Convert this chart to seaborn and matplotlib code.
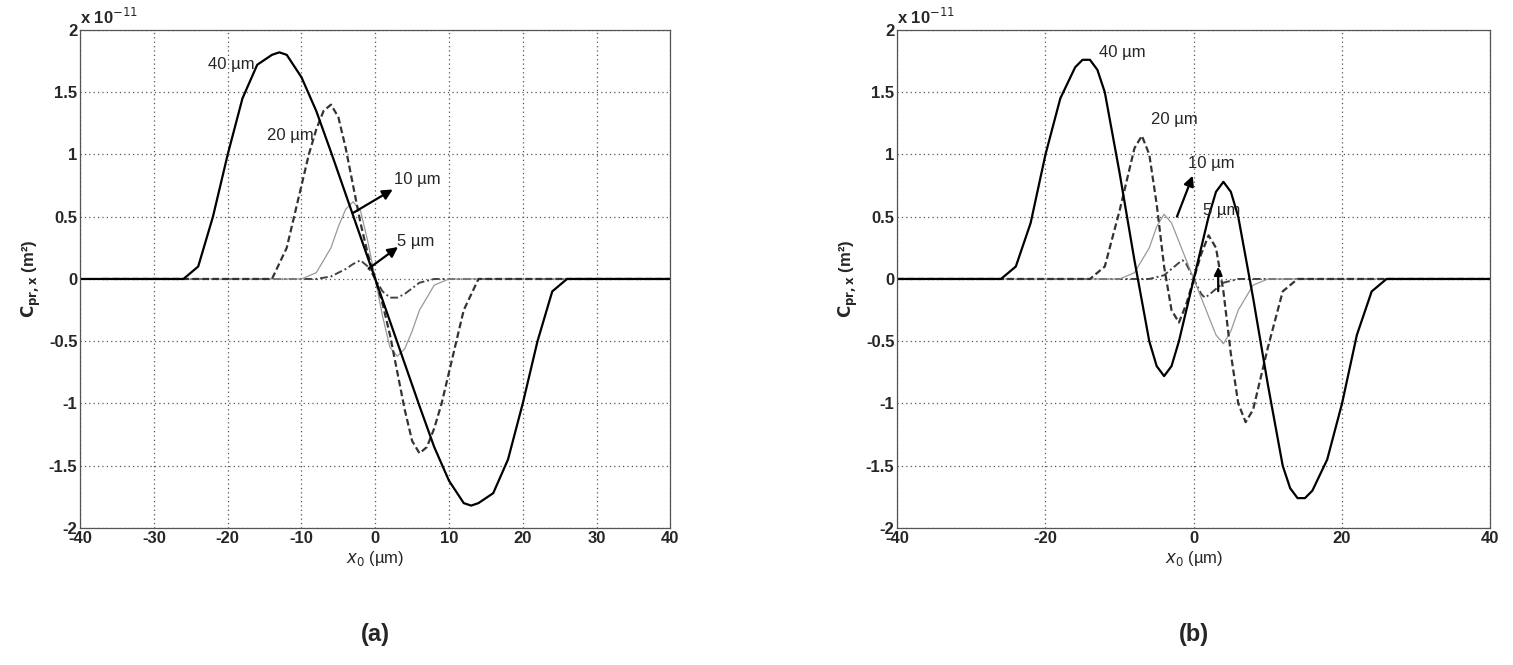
import numpy as np
import pandas as pd
import matplotlib
matplotlib.use("Agg")
import matplotlib.pyplot as plt
import seaborn as sns

# Werte in Einheiten von 1e-11 m^2
# (a)
xa_40 = [-40, -26, -24, -22, -20, -18, -16, -14, -13, -12, -10, -8, -6, -4, -2, 0,
         2, 4, 6, 8, 10, 12, 13, 14, 16, 18, 20, 22, 24, 26, 40]
ya_40 = [0, 0, 0.1, 0.5, 1.0, 1.45, 1.72, 1.8, 1.82, 1.8, 1.62, 1.35, 1.02, 0.68, 0.34, 0,
         -0.34, -0.68, -1.02, -1.35, -1.62, -1.8, -1.82, -1.8, -1.72, -1.45, -1.0, -0.5, -0.1, 0, 0]
xa_20 = [-37, -14, -12, -11, -10, -9, -8, -7, -6, -5, -4, -3, -2, -1, 0,
         1, 2, 3, 4, 5, 6, 7, 8, 9, 10, 11, 12, 14, 40]
ya_20 = [0, 0, 0.25, 0.5, 0.75, 1.0, 1.2, 1.35, 1.4, 1.3, 1.05, 0.75, 0.45, 0.2, 0,
         -0.2, -0.45, -0.75, -1.05, -1.3, -1.4, -1.35, -1.2, -1.0, -0.75, -0.5, -0.25, 0, 0]
xa_10 = [-37, -10, -8, -6, -5, -4, -3, -2, -1, 0, 1, 2, 3, 4, 5, 6, 8, 10, 40]
ya_10 = [0, 0, 0.05, 0.25, 0.42, 0.56, 0.62, 0.55, 0.3, 0,
         -0.3, -0.55, -0.62, -0.56, -0.42, -0.25, -0.05, 0, 0]
xa_5 = [-37, -8, -6, -4, -3, -2, -1, 0, 1, 2, 3, 4, 6, 8, 40]
ya_5 = [0, 0, 0.02, 0.08, 0.12, 0.15, 0.1, 0, -0.1, -0.15, -0.15, -0.12, -0.03, 0, 0]

# (b)
xb_40 = [-40, -26, -24, -22, -20, -18, -16, -15, -14, -13, -12, -10, -8, -6, -5, -4, -3, -2, 0,
         2, 3, 4, 5, 6, 8, 10, 12, 13, 14, 15, 16, 18, 20, 22, 24, 26, 40]
yb_40 = [0, 0, 0.1, 0.45, 1.0, 1.45, 1.7, 1.76, 1.76, 1.68, 1.5, 0.85, 0.15, -0.5, -0.7, -0.78, -0.7, -0.5, 0,
         0.5, 0.7, 0.78, 0.7, 0.5, -0.15, -0.85, -1.5, -1.68, -1.76, -1.76, -1.7, -1.45, -1.0, -0.45, -0.1, 0, 0]
xb_20 = [-40, -14, -12, -10, -8, -7, -6, -5, -4, -3, -2, -1, 0,
         1, 2, 3, 4, 5, 6, 7, 8, 10, 12, 14, 40]
yb_20 = [0, 0, 0.1, 0.55, 1.05, 1.15, 1.0, 0.6, 0.1, -0.25, -0.35, -0.2, 0,
         0.2, 0.35, 0.25, -0.1, -0.6, -1.0, -1.15, -1.05, -0.55, -0.1, 0, 0]
xb_10 = [-40, -10, -8, -6, -5, -4, -3, -2, -1, 0, 1, 2, 3, 4, 5, 6, 8, 10, 40]
yb_10 = [0, 0, 0.05, 0.25, 0.42, 0.52, 0.45, 0.3, 0.15, 0,
         -0.15, -0.3, -0.45, -0.52, -0.42, -0.25, -0.05, 0, 0]
xb_5 = [-40, -6, -4, -3, -2, -1.5, -1, 0, 1, 1.5, 2, 3, 4, 6, 40]
yb_5 = [0, 0, 0.03, 0.08, 0.13, 0.15, 0.12, 0, -0.12, -0.15, -0.13, -0.08, -0.03, 0, 0]

styles = {"40": dict(color="black", lw=1.6, ls="-"),
          "20": dict(color="#333333", lw=1.6, ls=(0, (3, 1.5))),
          "10": dict(color="#999999", lw=0.9, ls="-"),
          "5": dict(color="#444444", lw=1.4, ls=(0, (4, 1.5, 1, 1.5)))}

sns.set_style("white")
plt.rcParams["font.family"] = ["Liberation Sans", "DejaVu Sans"]

fig = plt.figure(figsize=(15.13, 6.65), dpi=100)
ax_a = fig.add_axes([0.053, 0.206, 0.390, 0.749])
ax_b = fig.add_axes([0.593, 0.206, 0.392, 0.749])

curves_a = {"40": (xa_40, ya_40), "20": (xa_20, ya_20), "10": (xa_10, ya_10), "5": (xa_5, ya_5)}
curves_b = {"40": (xb_40, yb_40), "20": (xb_20, yb_20), "10": (xb_10, yb_10), "5": (xb_5, yb_5)}

for ax, curves, xt, lab in [(ax_a, curves_a, list(range(-40, 41, 10)), "(a)"),
                            (ax_b, curves_b, list(range(-40, 41, 20)), "(b)")]:
    for k in ["5", "10", "20", "40"]:
        x, y = curves[k]
        df = pd.DataFrame({"x": x, "y": y})
        s = styles[k]
        sns.lineplot(data=df, x="x", y="y", ax=ax, color=s["color"], lw=s["lw"],
                     linestyle=s["ls"], sort=False, estimator=None)
    ax.set_xlim(-40, 40)
    ax.set_ylim(-2, 2)
    ax.set_xticks(xt)
    ax.set_xticklabels([str(v) for v in xt])
    ax.set_yticks(np.arange(-2, 2.01, 0.5))
    ax.set_yticklabels(["-2", "-1.5", "-1", "-0.5", "0", "0.5", "1", "1.5", "2"])
    ax.grid(True, color="#555555", ls=(0, (1, 2.5)), lw=0.9)
    ax.tick_params(direction="in", length=4, labelsize=12, pad=2)
    for lbl in ax.get_xticklabels() + ax.get_yticklabels():
        lbl.set_fontweight("bold")
    for sp in ax.spines.values():
        sp.set_color("#555555")
        sp.set_linewidth(0.9)
    ax.set_xlabel(r"$\mathbf{\it{x}_0}$ (µm)", fontsize=12, labelpad=2)
    ax.set_ylabel(r"$\mathbf{C_{pr,x}}$ (m²)", fontsize=12, fontweight="bold", labelpad=4)
    ax.text(0.0, 1.005, "x 10$^{-11}$", transform=ax.transAxes, fontsize=12,
            fontweight="bold", va="bottom", ha="left")
    ax.text(0.5, -0.19, lab, transform=ax.transAxes, fontsize=17,
            fontweight="bold", ha="center", va="top")

# Beschriftungen (a)
ax_a.text(-19.5, 1.72, "40 µm", fontsize=12, ha="center", va="center")
ax_a.text(-11.5, 1.15, "20 µm", fontsize=12, ha="center", va="center")
ax_a.text(2.5, 0.8, "10 µm", fontsize=12, ha="left", va="center")
ax_a.annotate("", xy=(2.7, 0.73), xytext=(-3.3, 0.52),
              arrowprops=dict(arrowstyle="-|>", color="black", lw=1.6, mutation_scale=15))
ax_a.text(3.0, 0.3, "5 µm", fontsize=12, ha="left", va="center")
ax_a.annotate("", xy=(3.4, 0.27), xytext=(-1.2, 0.07),
              arrowprops=dict(arrowstyle="-|>", color="black", lw=1.6, mutation_scale=15))

# Beschriftungen (b)
ax_b.text(-12.8, 1.82, "40 µm", fontsize=12, ha="left", va="center")
ax_b.text(-5.8, 1.28, "20 µm", fontsize=12, ha="left", va="center")
ax_b.text(-0.8, 0.93, "10 µm", fontsize=12, ha="left", va="center")
ax_b.annotate("", xy=(0.0, 0.85), xytext=(-2.4, 0.48),
              arrowprops=dict(arrowstyle="-|>", color="black", lw=1.6, mutation_scale=15))
ax_b.text(1.3, 0.55, "5 µm", fontsize=12, ha="left", va="center")
ax_b.annotate("", xy=(3.3, 0.12), xytext=(3.3, -0.12),
              arrowprops=dict(arrowstyle="-|>", color="black", lw=1.6, mutation_scale=12))

fig.savefig("out.png", dpi=100)
